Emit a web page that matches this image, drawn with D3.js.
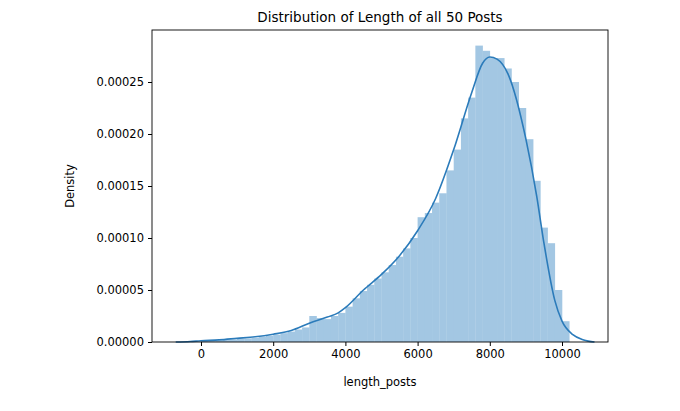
<!DOCTYPE html><html><head><script src="https://d3js.org/d3.v7.min.js"></script>
<style>body{margin:0;background:#fff}text{font-family:"DejaVu Sans",sans-serif}</style></head><body><svg id="c" width="680" height="411"></svg>
<script>
const binStarts=[0,200,400,600,800,1000,1200,1400,1600,1800,2000,2200,2400,2600,2800,3000,3200,3400,3600,3800,4000,4200,4400,4600,4800,5000,5200,5400,5600,5800,6000,6200,6400,6600,6800,7000,7200,7400,7600,7800,8000,8200,8400,8600,8800,9000,9200,9400,9600,9800,10000];
const binDens=[0.1,0.1,0.15,0.2,0.2,0.3,0.35,0.4,0.5,0.6,0.7,0.85,1.0,1.2,1.4,2.5,2.3,2.2,2.5,2.8,3.4,4.2,4.9,5.5,6.1,6.7,7.4,8.2,9.0,10.0,12.0,12.4,13.4,14.3,16.5,18.5,21.5,23.5,28.5,28.0,27.3,27.3,26.3,25.0,22.5,19.5,15.5,11.0,9.5,5.0,2.0];
const kdeX=[-700,-300,0,500,1000,1500,2000,2500,3000,3500,3800,4000,4500,5000,5500,6000,6500,7000,7500,7800,8000,8200,8500,9000,9300,9500,9800,10000,10300,10600,10900];
const kdeY=[0,0.05,0.12,0.2,0.35,0.5,0.75,1.1,1.8,2.4,2.8,3.3,5.0,6.5,8.3,10.7,13.8,18.5,24,26.8,27.4,27.2,25.8,19.5,14,9.5,4,2,0.7,0.2,0];
const xTicks=[0,2000,4000,6000,8000,10000];
const yTicks=[0,0.00005,0.0001,0.00015,0.0002,0.00025];
const binW=200;
const svg=d3.select("#c");
const L=152,R=608,T=30,B=342;
const x=d3.scaleLinear().domain([-1357,11274]).range([L,R]);
const y=d3.scaleLinear().domain([0,0.0003]).range([B,T]);
svg.append("g").selectAll("rect").data(binStarts).join("rect")
 .attr("x",d=>x(d)).attr("width",d=>x(d+binW)-x(d)+0.3).attr("y",(d,i)=>y(binDens[i]*1e-5))
 .attr("height",(d,i)=>B-y(binDens[i]*1e-5)).attr("fill","#a3c7e3");
svg.append("path").datum(kdeX.map((v,i)=>[v,kdeY[i]*1e-5])).attr("fill","none").attr("stroke","#2b7bba").attr("stroke-width",1.6)
 .attr("d",d3.line().x(d=>x(d[0])).y(d=>y(d[1])).curve(d3.curveMonotoneX));
svg.append("rect").attr("x",L).attr("y",T).attr("width",R-L).attr("height",B-T).attr("fill","none").attr("stroke","#000").attr("stroke-width",0.9);
const gx=svg.append("g").attr("transform",`translate(0,${B})`).call(d3.axisBottom(x).tickValues(xTicks).tickFormat(d3.format("d")).tickSize(4).tickPadding(4));
const gy=svg.append("g").attr("transform",`translate(${L},0)`).call(d3.axisLeft(y).tickValues(yTicks).tickFormat(d3.format(".5f")).tickSize(4).tickPadding(4));
[gx,gy].forEach(g=>{g.select(".domain").remove();g.selectAll("text").attr("font-size",11.5).attr("font-family","DejaVu Sans").attr("fill","#000");});
svg.append("text").attr("x",(L+R)/2).attr("y",22).attr("text-anchor","middle").attr("font-size",13.5).text("Distribution of Length of all 50 Posts");
svg.append("text").attr("x",(L+R)/2).attr("y",386).attr("text-anchor","middle").attr("font-size",11.5).text("length_posts");
svg.append("text").attr("transform","translate(74,186) rotate(-90)").attr("text-anchor","middle").attr("font-size",11.5).text("Density");
</script></body></html>
